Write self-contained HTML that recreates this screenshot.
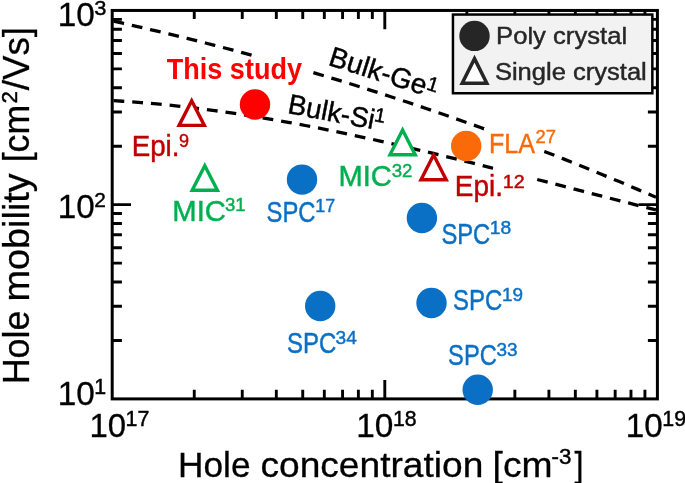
<!DOCTYPE html>
<html><head><meta charset="utf-8"><title>Hole mobility vs hole concentration</title>
<style>html,body{margin:0;padding:0;background:#fff;overflow:hidden}svg{display:block}</style></head>
<body><svg width="685" height="483" viewBox="0 0 685 483">
<rect x="0" y="0" width="685" height="483" fill="#fff"/>
<path d="M113.50,21.18 L122.69,23.22 L131.89,25.29 L141.08,27.40 L150.28,29.53 L159.47,31.70 L168.67,33.89 L177.86,36.12 L187.06,38.38 L196.25,40.67 L205.45,42.99 L214.64,45.35 L223.84,47.74 L233.03,50.15 L242.23,52.61 L251.42,55.09 L260.62,57.60 L269.81,60.15 L279.01,62.73 L288.20,65.34 L297.40,67.99 L306.59,70.66 L315.79,73.37 L324.98,76.11 L334.18,78.89 L343.37,81.70 L352.57,84.54 L361.76,87.41 L370.96,90.32 L380.15,93.26 L389.35,96.23 L398.54,99.24 L407.74,102.28 L416.93,105.35 L426.13,108.46 L435.32,111.60 L444.52,114.77 L453.71,117.98 L462.91,121.23 L472.10,124.50 L481.30,127.81 L490.49,131.16 L499.69,134.53 L508.88,137.95 L518.08,141.39 L527.27,144.88 L536.47,148.39 L545.66,151.94 L554.86,155.53 L564.05,159.15 L573.25,162.80 L582.44,166.49 L591.64,170.22 L600.83,173.98 L610.03,177.77 L619.22,181.60 L628.42,185.47 L637.61,189.37 L646.81,193.30 L656.00,197.28" fill="none" stroke="#000" stroke-width="3.3" stroke-dasharray="10.8 7.97"/>
<path d="M113.50,100.70 L122.69,101.25 L131.89,101.88 L141.08,102.58 L150.28,103.34 L159.47,104.18 L168.67,105.09 L177.86,106.06 L187.06,107.10 L196.25,108.19 L205.45,109.36 L214.64,110.58 L223.84,111.85 L233.03,113.19 L242.23,114.58 L251.42,116.03 L260.62,117.53 L269.81,119.07 L279.01,120.67 L288.20,122.32 L297.40,124.01 L306.59,125.75 L315.79,127.53 L324.98,129.35 L334.18,131.21 L343.37,133.11 L352.57,135.05 L361.76,137.03 L370.96,139.03 L380.15,141.08 L389.35,143.15 L398.54,145.25 L407.74,147.38 L416.93,149.53 L426.13,151.72 L435.32,153.92 L444.52,156.15 L453.71,158.39 L462.91,160.66 L472.10,162.94 L481.30,165.24 L490.49,167.56 L499.69,169.88 L508.88,172.22 L518.08,174.57 L527.27,176.92 L536.47,179.29 L545.66,181.66 L554.86,184.03 L564.05,186.40 L573.25,188.78 L582.44,191.15 L591.64,193.52 L600.83,195.89 L610.03,198.25 L619.22,200.61 L628.42,202.95 L637.61,205.29 L646.81,207.62 L656.00,209.93" fill="none" stroke="#000" stroke-width="3.3" stroke-dasharray="10.8 7.97"/>
<path d="M194.26,398.90V389.70M194.26,10.45V18.95M242.26,398.90V389.70M242.26,10.45V18.95M276.32,398.90V389.70M276.32,10.45V18.95M302.74,398.90V389.70M302.74,10.45V18.95M324.32,398.90V389.70M324.32,10.45V18.95M342.57,398.90V389.70M342.57,10.45V18.95M358.38,398.90V389.70M358.38,10.45V18.95M372.33,398.90V389.70M372.33,10.45V18.95M384.80,398.90V380.10M384.80,10.45V29.25M466.86,398.90V389.70M466.86,10.45V18.95M514.86,398.90V389.70M514.86,10.45V18.95M548.92,398.90V389.70M548.92,10.45V18.95M575.34,398.90V389.70M575.34,10.45V18.95M596.92,398.90V389.70M596.92,10.45V18.95M615.17,398.90V389.70M615.17,10.45V18.95M630.98,398.90V389.70M630.98,10.45V18.95M644.93,398.90V389.70M644.93,10.45V18.95M112.20,340.43H121.90M657.40,340.43H647.90M112.20,306.23H121.90M657.40,306.23H647.90M112.20,281.96H121.90M657.40,281.96H647.90M112.20,263.14H121.90M657.40,263.14H647.90M112.20,247.76H121.90M657.40,247.76H647.90M112.20,234.76H121.90M657.40,234.76H647.90M112.20,223.50H121.90M657.40,223.50H647.90M112.20,213.56H121.90M657.40,213.56H647.90M112.20,204.67H131.00M657.40,204.67H638.60M112.20,146.21H121.90M657.40,146.21H647.90M112.20,112.01H121.90M657.40,112.01H647.90M112.20,87.74H121.90M657.40,87.74H647.90M112.20,68.92H121.90M657.40,68.92H647.90M112.20,53.54H121.90M657.40,53.54H647.90M112.20,40.54H121.90M657.40,40.54H647.90M112.20,29.27H121.90M657.40,29.27H647.90M112.20,19.34H121.90M657.40,19.34H647.90" stroke="#000" stroke-width="2.9" fill="none"/>
<rect x="253" y="48" width="58" height="35" fill="#fff"/>
<rect x="484" y="128" width="60" height="27" fill="#fff"/>
<rect x="493.5" y="164" width="42.5" height="18" fill="#fff"/>
<rect x="452.95" y="14.55" width="199.4" height="78.7" fill="#F2F2F2" stroke="#000" stroke-width="2.5"/>
<rect x="112.2" y="10.45" width="545.20" height="388.45" fill="none" stroke="#000" stroke-width="3"/>
<path d="M191.70,100.82L204.32,125.40L179.08,125.40Z" fill="#fff" stroke="#C00000" stroke-width="3.4" stroke-linejoin="miter"/>
<path d="M204.80,165.80L217.41,190.20L192.19,190.20Z" fill="#fff" stroke="#00B050" stroke-width="3.4" stroke-linejoin="miter"/>
<path d="M402.60,129.95L415.23,154.80L389.97,154.80Z" fill="#fff" stroke="#00B050" stroke-width="3.4" stroke-linejoin="miter"/>
<path d="M433.60,154.94L446.22,179.70L420.98,179.70Z" fill="#fff" stroke="#C00000" stroke-width="3.4" stroke-linejoin="miter"/>
<circle cx="255.0" cy="104.5" r="15.2" fill="#FF0000"/>
<circle cx="466.2" cy="146.0" r="15.2" fill="#FA6A08"/>
<circle cx="302.0" cy="179.6" r="15.2" fill="#0A70C6"/>
<circle cx="421.9" cy="218.0" r="15.2" fill="#0A70C6"/>
<circle cx="431.5" cy="303.0" r="15.2" fill="#0A70C6"/>
<circle cx="320.2" cy="306.0" r="15.2" fill="#0A70C6"/>
<circle cx="477.7" cy="389.7" r="15.2" fill="#0A70C6"/>
<circle cx="474.5" cy="35.9" r="15.2" fill="#262626"/>
<path d="M474.50,58.61L486.82,83.25L462.18,83.25Z" fill="#fff" stroke="#262626" stroke-width="3.5" stroke-linejoin="miter"/>
<g font-family="'Liberation Sans', sans-serif"><text x="57.73" y="25.90" font-size="33.33" textLength="37.08" lengthAdjust="spacingAndGlyphs" fill="#000" stroke="#000" stroke-width="0.3">10</text>
<text x="94.22" y="14.90" font-size="21.01" textLength="12.19" lengthAdjust="spacingAndGlyphs" fill="#000" stroke="#000" stroke-width="0.45">3</text>
<text x="57.84" y="217.60" font-size="33.33" textLength="36.97" lengthAdjust="spacingAndGlyphs" fill="#000" stroke="#000" stroke-width="0.3">10</text>
<text x="94.36" y="206.90" font-size="21.01" textLength="11.61" lengthAdjust="spacingAndGlyphs" fill="#000" stroke="#000" stroke-width="0.45">2</text>
<text x="57.73" y="404.70" font-size="33.33" textLength="37.08" lengthAdjust="spacingAndGlyphs" fill="#000" stroke="#000" stroke-width="0.3">10</text>
<text x="94.29" y="393.80" font-size="21.16" textLength="11.90" lengthAdjust="spacingAndGlyphs" fill="#000" stroke="#000" stroke-width="0.45">1</text>
<text x="89.47" y="436.80" font-size="33.33" textLength="36.63" lengthAdjust="spacingAndGlyphs" fill="#000" stroke="#000" stroke-width="0.3">10</text>
<text x="125.59" y="426.30" font-size="21.88" textLength="23.84" lengthAdjust="spacingAndGlyphs" fill="#000" stroke="#000" stroke-width="0.45">17</text>
<text x="356.23" y="436.80" font-size="33.33" textLength="37.19" lengthAdjust="spacingAndGlyphs" fill="#000" stroke="#000" stroke-width="0.3">10</text>
<text x="393.00" y="426.30" font-size="21.88" textLength="23.60" lengthAdjust="spacingAndGlyphs" fill="#000" stroke="#000" stroke-width="0.45">18</text>
<text x="625.84" y="436.80" font-size="33.33" textLength="36.97" lengthAdjust="spacingAndGlyphs" fill="#000" stroke="#000" stroke-width="0.3">10</text>
<text x="662.29" y="426.30" font-size="21.88" textLength="23.84" lengthAdjust="spacingAndGlyphs" fill="#000" stroke="#000" stroke-width="0.45">19</text>
<text x="178.08" y="476.60" font-size="35.94" textLength="72.46" lengthAdjust="spacingAndGlyphs" fill="#000" stroke="#000" stroke-width="0.3">Hole</text>
<text x="260.41" y="476.60" font-size="35.94" textLength="222.96" lengthAdjust="spacingAndGlyphs" fill="#000" stroke="#000" stroke-width="0.3">concentration</text>
<text x="492.60" y="476.60" font-size="35.94" textLength="59.94" lengthAdjust="spacingAndGlyphs" fill="#000" stroke="#000" stroke-width="0.3">[cm</text>
<text x="551.61" y="464.10" font-size="21.16" textLength="19.79" lengthAdjust="spacingAndGlyphs" fill="#000" stroke="#000" stroke-width="0.45">-3</text>
<text x="574.38" y="476.60" font-size="35.94" textLength="9.03" lengthAdjust="spacingAndGlyphs" fill="#000" stroke="#000" stroke-width="0.3">]</text>
<text x="166.73" y="78.60" font-size="29.28" textLength="135.26" lengthAdjust="spacingAndGlyphs" fill="#FF0000" font-weight="bold">This study</text>
<text x="131.68" y="156.30" font-size="29.28" textLength="47.81" lengthAdjust="spacingAndGlyphs" fill="#C00000" stroke="#C00000" stroke-width="0.45">Epi.</text>
<text x="179.00" y="146.60" font-size="18.99" textLength="10.04" lengthAdjust="spacingAndGlyphs" fill="#C00000" stroke="#C00000" stroke-width="0.45">9</text>
<text x="172.36" y="220.80" font-size="29.71" textLength="53.60" lengthAdjust="spacingAndGlyphs" fill="#00B050" stroke="#00B050" stroke-width="0.45">MIC</text>
<text x="225.06" y="211.40" font-size="18.70" textLength="20.61" lengthAdjust="spacingAndGlyphs" fill="#00B050" stroke="#00B050" stroke-width="0.45">31</text>
<text x="266.51" y="222.00" font-size="29.28" textLength="48.99" lengthAdjust="spacingAndGlyphs" fill="#0A70C6" stroke="#0A70C6" stroke-width="0.45">SPC</text>
<text x="315.26" y="212.10" font-size="18.12" textLength="19.98" lengthAdjust="spacingAndGlyphs" fill="#0A70C6" stroke="#0A70C6" stroke-width="0.45">17</text>
<text x="338.47" y="185.60" font-size="29.71" textLength="53.39" lengthAdjust="spacingAndGlyphs" fill="#00B050" stroke="#00B050" stroke-width="0.45">MIC</text>
<text x="391.65" y="176.50" font-size="18.99" textLength="20.72" lengthAdjust="spacingAndGlyphs" fill="#00B050" stroke="#00B050" stroke-width="0.45">32</text>
<text x="489.00" y="152.90" font-size="28.55" textLength="45.90" lengthAdjust="spacingAndGlyphs" fill="#FA6A08" stroke="#FA6A08" stroke-width="0.45">FLA</text>
<text x="535.58" y="143.10" font-size="18.26" textLength="20.48" lengthAdjust="spacingAndGlyphs" fill="#FA6A08" stroke="#FA6A08" stroke-width="0.45">27</text>
<text x="454.87" y="196.40" font-size="29.13" textLength="48.14" lengthAdjust="spacingAndGlyphs" fill="#C00000" stroke="#C00000" stroke-width="0.45">Epi.</text>
<text x="502.82" y="187.60" font-size="18.84" textLength="21.91" lengthAdjust="spacingAndGlyphs" fill="#C00000" stroke="#C00000" stroke-width="0.45">12</text>
<text x="441.41" y="244.00" font-size="29.42" textLength="48.89" lengthAdjust="spacingAndGlyphs" fill="#0A70C6" stroke="#0A70C6" stroke-width="0.45">SPC</text>
<text x="489.76" y="233.90" font-size="18.12" textLength="21.35" lengthAdjust="spacingAndGlyphs" fill="#0A70C6" stroke="#0A70C6" stroke-width="0.45">18</text>
<text x="453.10" y="310.10" font-size="29.42" textLength="49.20" lengthAdjust="spacingAndGlyphs" fill="#0A70C6" stroke="#0A70C6" stroke-width="0.45">SPC</text>
<text x="501.99" y="300.60" font-size="18.84" textLength="21.00" lengthAdjust="spacingAndGlyphs" fill="#0A70C6" stroke="#0A70C6" stroke-width="0.45">19</text>
<text x="287.10" y="353.10" font-size="29.42" textLength="49.20" lengthAdjust="spacingAndGlyphs" fill="#0A70C6" stroke="#0A70C6" stroke-width="0.45">SPC</text>
<text x="335.63" y="343.60" font-size="18.84" textLength="21.28" lengthAdjust="spacingAndGlyphs" fill="#0A70C6" stroke="#0A70C6" stroke-width="0.45">34</text>
<text x="448.12" y="365.40" font-size="29.42" textLength="48.68" lengthAdjust="spacingAndGlyphs" fill="#0A70C6" stroke="#0A70C6" stroke-width="0.45">SPC</text>
<text x="496.44" y="355.90" font-size="18.99" textLength="21.06" lengthAdjust="spacingAndGlyphs" fill="#0A70C6" stroke="#0A70C6" stroke-width="0.45">33</text>
<text x="496.05" y="43.70" font-size="24.78" textLength="131.05" lengthAdjust="spacingAndGlyphs" fill="#262626" stroke="#262626" stroke-width="0.45">Poly crystal</text>
<text x="494.92" y="79.70" font-size="24.35" textLength="151.89" lengthAdjust="spacingAndGlyphs" fill="#262626" stroke="#262626" stroke-width="0.45">Single crystal</text></g>
<g font-family="'Liberation Sans', sans-serif" transform="rotate(-90)"><text x="-384.37" y="28.50" font-size="36.81" textLength="73.74" lengthAdjust="spacingAndGlyphs" fill="#000" stroke="#000" stroke-width="0.3">Hole</text>
<text x="-301.45" y="28.50" font-size="36.81" textLength="128.13" lengthAdjust="spacingAndGlyphs" fill="#000" stroke="#000" stroke-width="0.3">mobility</text>
<text x="-162.30" y="28.50" font-size="36.81" textLength="57.53" lengthAdjust="spacingAndGlyphs" fill="#000" stroke="#000" stroke-width="0.3">[cm</text>
<text x="-103.41" y="17.00" font-size="22.03" textLength="12.33" lengthAdjust="spacingAndGlyphs" fill="#000" stroke="#000" stroke-width="0.45">2</text>
<text x="-90.30" y="28.50" font-size="36.81" textLength="63.37" lengthAdjust="spacingAndGlyphs" fill="#000" stroke="#000" stroke-width="0.3">/Vs]</text></g>
<g transform="translate(329.4,65.4) rotate(17.5)" font-family="'Liberation Sans', sans-serif" fill="#000" stroke="#000" stroke-width="0.45"><text x="-2.24" y="0" font-size="28.12" textLength="101.02" lengthAdjust="spacingAndGlyphs">Bulk-Ge</text><text x="98.91" y="-6.20" font-size="20.29">1</text></g>
<g transform="translate(288.9,113.4) rotate(10.7)" font-family="'Liberation Sans', sans-serif" fill="#000" stroke="#000" stroke-width="0.45"><text x="-2.21" y="0" font-size="27.97" textLength="87.58" lengthAdjust="spacingAndGlyphs">Bulk-Si</text><text x="84.44" y="-8.35" font-size="19.86">1</text></g>
</svg></body></html>
